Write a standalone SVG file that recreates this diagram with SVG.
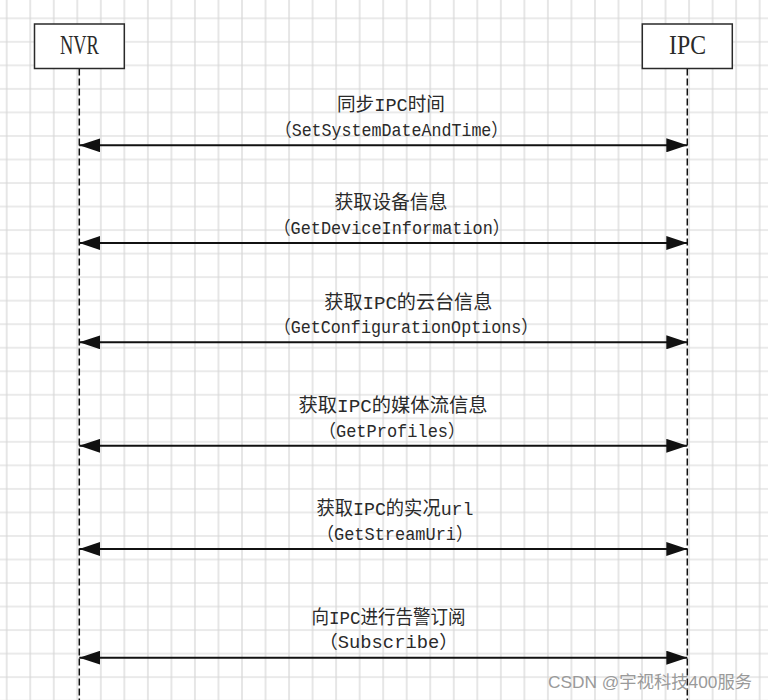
<svg xmlns="http://www.w3.org/2000/svg" width="768" height="700" viewBox="0 0 768 700">
<style>
.box{fill:#fff;stroke:#2a2a2a;stroke-width:1.5}
.name{font-family:"Liberation Serif",serif;font-size:28px;fill:#2a2a2a;text-anchor:middle}
.life{stroke:#111;stroke-width:1.5;stroke-dasharray:7 3;fill:none}
.msg{stroke:#111;stroke-width:2;fill:none;marker-start:url(#ah);marker-end:url(#ah)}
.cj{font-family:"Liberation Mono","Noto Sans CJK SC",monospace;font-size:19px;fill:#2a2a2a;text-anchor:middle}
.pr{font-family:"Liberation Mono","Noto Sans CJK SC",monospace;font-size:18px;fill:#2a2a2a;text-anchor:middle}
.wm{font-family:"Liberation Sans","Noto Sans CJK SC",sans-serif;font-size:17px;fill:#9a9a9a}
</style>
<defs>
<pattern id="grid" patternUnits="userSpaceOnUse" x="-5.06" y="6.54" width="23.53" height="23.53">
<path d="M11.76 0V23.53M0 11.76H23.53" stroke="#d6d6d6" stroke-width="1.2" fill="none"/>
</pattern>
<marker id="ah" markerUnits="userSpaceOnUse" markerWidth="22" markerHeight="14" refX="21" refY="7" orient="auto-start-reverse" viewBox="0 0 22 14">
<path d="M0 0L21 7L0 14Z" fill="#111"/>
</marker>
</defs>
<rect width="768" height="700" fill="#fff"/>
<rect width="768" height="700" fill="url(#grid)"/>

<g id="lifelines">
<line class="life" x1="79.3" y1="68.5" x2="79.3" y2="700"/>
<line class="life" x1="687.3" y1="68.5" x2="687.3" y2="700"/>
</g>

<g id="NVR">
<rect class="box" x="34.5" y="24" width="89.8" height="44.5"/>
<text class="name" x="79.4" y="54" textLength="39" lengthAdjust="spacingAndGlyphs">NVR</text>
</g>
<g id="IPC">
<rect class="box" x="642.3" y="24" width="90" height="44.5"/>
<text class="name" x="687.5" y="54" textLength="37" lengthAdjust="spacingAndGlyphs">IPC</text>
</g>

<g id="connectors">
<line class="msg" x1="79.3" y1="145.3" x2="687.3" y2="145.3"/>
<line class="msg" x1="79.3" y1="243" x2="687.3" y2="243"/>
<line class="msg" x1="79.3" y1="342.3" x2="687.3" y2="342.3"/>
<line class="msg" x1="79.3" y1="445.8" x2="687.3" y2="445.8"/>
<line class="msg" x1="79.3" y1="549" x2="687.3" y2="549"/>
<line class="msg" x1="79.3" y1="657.7" x2="687.3" y2="657.7"/>
</g>

<g id="labels">
<text class="cj" x="391" y="111" textLength="108" lengthAdjust="spacingAndGlyphs">同步IPC时间</text>
<text class="pr" x="391.5" y="135.5" textLength="233" lengthAdjust="spacingAndGlyphs">（SetSystemDateAndTime）</text>

<text class="cj" x="391" y="209" textLength="113" lengthAdjust="spacingAndGlyphs">获取设备信息</text>
<text class="pr" x="391.7" y="233.5" textLength="236" lengthAdjust="spacingAndGlyphs">（GetDeviceInformation）</text>

<text class="cj" x="408.3" y="309" textLength="168" lengthAdjust="spacingAndGlyphs">获取IPC的云台信息</text>
<text class="pr" x="406" y="333" textLength="264" lengthAdjust="spacingAndGlyphs">（GetConfigurationOptions）</text>

<text class="cj" x="393" y="412" textLength="189" lengthAdjust="spacingAndGlyphs">获取IPC的媒体流信息</text>
<text class="pr" x="392" y="436.5" textLength="146" lengthAdjust="spacingAndGlyphs">（GetProfiles）</text>

<text class="cj" x="395" y="515" textLength="157" lengthAdjust="spacingAndGlyphs">获取IPC的实况url</text>
<text class="pr" x="395" y="539.5" textLength="156" lengthAdjust="spacingAndGlyphs">（GetStreamUri）</text>

<text class="cj" x="388.5" y="623.5" textLength="154" lengthAdjust="spacingAndGlyphs">向IPC进行告警订阅</text>
<text class="pr" x="388.5" y="648" textLength="139" lengthAdjust="spacingAndGlyphs">（Subscribe）</text>
</g>

<text class="wm" x="548" y="688" textLength="204" lengthAdjust="spacingAndGlyphs">CSDN @宇视科技400服务</text>
</svg>
